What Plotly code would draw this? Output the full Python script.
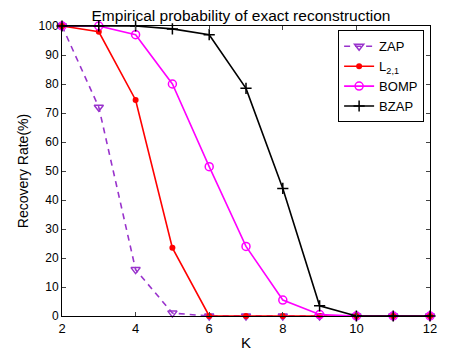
import plotly.graph_objects as go

K = [2, 3, 4, 5, 6, 7, 8, 9, 10, 11, 12]
zap = [100, 72, 16, 1, 0, 0, 0, 0, 0, 0, 0]
l21 = [100, 98, 74.5, 23.5, 0, 0, 0, 0, 0, 0, 0]
bomp = [100, 100, 97, 80, 51.5, 24, 5.5, 0.5, 0, 0, 0]
bzap = [100, 100, 100, 99, 97, 78.5, 44, 3.5, 0, 0, 0]
x_ticks = [2, 4, 6, 8, 10, 12]
y_ticks = [0, 10, 20, 30, 40, 50, 60, 70, 80, 90, 100]

fig = go.Figure()
fig.add_trace(go.Scatter(x=K, y=zap, name="ZAP", mode="lines+markers",
                         line=dict(color="#9933CC", width=1.6, dash="6px,5px"),
                         marker=dict(symbol="triangle-down-open", size=8, color="#9933CC", line=dict(width=1.5)),
                         cliponaxis=False))
fig.add_trace(go.Scatter(x=K, y=l21, name="L<sub>2,1</sub>", mode="lines+markers",
                         line=dict(color="#FF0000", width=1.6),
                         marker=dict(symbol="circle", size=6, color="#FF0000"),
                         cliponaxis=False))
fig.add_trace(go.Scatter(x=K, y=bomp, name="BOMP", mode="lines+markers",
                         line=dict(color="#FF00FF", width=1.6),
                         marker=dict(symbol="circle-open", size=8, color="#FF00FF", line=dict(width=1.5)),
                         cliponaxis=False))
fig.add_trace(go.Scatter(x=K, y=bzap, name="BZAP", mode="lines+markers",
                         line=dict(color="#000000", width=1.6),
                         marker=dict(symbol="cross-thin-open", size=8, color="#000000", line=dict(width=1.5, color="#000000")),
                         cliponaxis=False))

fig.update_layout(
    width=466, height=348,
    margin=dict(l=54, r=44, t=18, b=40),
    paper_bgcolor="white", plot_bgcolor="white",
    font=dict(family="Liberation Sans, Arial, sans-serif", color="black", size=12),
    title=dict(text="Empirical probability of exact reconstruction", x=0.5, xanchor="center",
               y=0.994, yanchor="top", pad=dict(t=0, b=0), font=dict(size=15.5)),
    legend=dict(x=0.984, y=0.985, xanchor="right", yanchor="top",
                bordercolor="black", borderwidth=1, bgcolor="white",
                font=dict(size=13), tracegroupgap=0, itemwidth=30),
    xaxis=dict(range=[2, 12], tickvals=x_ticks, ticks="inside", ticklen=4,
               showline=True, linecolor="black", linewidth=1, mirror="ticks",
               showgrid=False, zeroline=False, tickfont=dict(size=13), automargin=False,
               title=dict(text="K", font=dict(size=15), standoff=2)),
    yaxis=dict(range=[0, 100], tickvals=y_ticks, ticks="inside", ticklen=4,
               showline=True, linecolor="black", linewidth=1, mirror="ticks",
               showgrid=False, zeroline=False, tickfont=dict(size=12), automargin=False,
               title=dict(text="Recovery Rate(%)", font=dict(size=14), standoff=6)),
)

fig.write_html("out.html")
